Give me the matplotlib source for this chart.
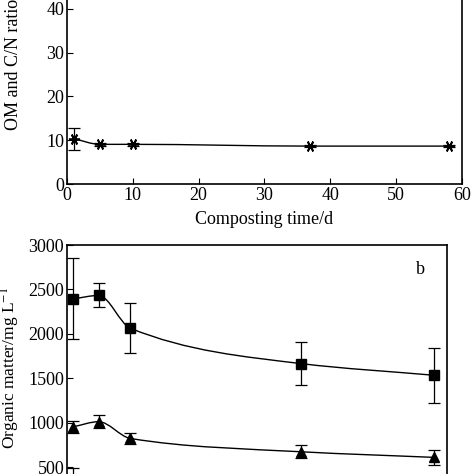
import matplotlib
matplotlib.use("Agg")
import matplotlib.pyplot as plt
from matplotlib.path import Path
from matplotlib.patches import PathPatch
import numpy as np

plt.rcParams['font.family'] = ['Liberation Serif', 'DejaVu Serif']
plt.rcParams['mathtext.fontset'] = 'stix'

# composting days
days = [1, 5, 10, 37, 58]

# panel a: OM and C/N ratio
cn_ratio = [10.4, 9.1, 9.1, 8.7, 8.7]
cn_err = [2.5, 0.3, 0.3, 0.2, 0.2]

# panel b: organic matter, mg/L
om_square = [2395, 2433, 2065, 1667, 1536]
om_square_err = [455, 135, 282, 240, 310]
om_triangle = [957, 1014, 826, 676, 613]
om_triangle_err = [70, 75, 65, 75, 85]
# third series, only the top of its first error bar shows
om_low_days = [1]
om_low = [330]
om_low_err = [165]


def smooth_path(x, y):
    # monotone cubic (Fritsch-Carlson) drawn as bezier segments
    x = np.asarray(x, float)
    y = np.asarray(y, float)
    h = np.diff(x)
    d = np.diff(y) / h
    m = np.zeros_like(y)
    m[0], m[-1] = d[0], d[-1]
    for k in range(1, len(x) - 1):
        if d[k - 1] * d[k] <= 0:
            m[k] = 0
        else:
            w1 = 2 * h[k] + h[k - 1]
            w2 = h[k] + 2 * h[k - 1]
            m[k] = (w1 + w2) / (w1 / d[k - 1] + w2 / d[k])
    verts = [(x[0], y[0])]
    codes = [Path.MOVETO]
    for k in range(len(x) - 1):
        verts += [(x[k] + h[k] / 3, y[k] + m[k] * h[k] / 3),
                  (x[k + 1] - h[k] / 3, y[k + 1] - m[k + 1] * h[k] / 3),
                  (x[k + 1], y[k + 1])]
        codes += [Path.CURVE4] * 3
    return PathPatch(Path(verts, codes), fill=False, ec='black', lw=1.0)


fig = plt.figure(figsize=(4.74, 4.74), dpi=100)

# top panel (a), cropped at the top of the picture
ax1 = fig.add_axes([0.1414, 0.6112, 0.8327, 0.4631])
ax1.add_patch(smooth_path(days, cn_ratio))
ax1.errorbar(days, cn_ratio, yerr=cn_err, fmt='none', ecolor='black',
             elinewidth=0.9, capsize=4, capthick=0.9)
ax1.plot(days, cn_ratio, ls='none', marker=(6, 2, 90), ms=8,
         mec='black', mew=1.3)
ax1.set_xlim(0, 60)
ax1.set_ylim(0, 50)
ax1.set_xticks([0, 10, 20, 30, 40, 50, 60])
ax1.set_yticks([0, 10, 20, 30, 40])
ax1.tick_params(direction='in', length=4, labelsize=13, pad=2)
ax1.set_xlabel('Composting time/d', fontsize=13, labelpad=5)
ax1.set_ylabel('OM and C/N ratio', fontsize=13)
ax1.yaxis.set_label_coords(-0.114, 0.545)
for s in ax1.spines.values():
    s.set_linewidth(1.2)

# bottom panel (b), cropped at the bottom of the picture
ax2 = fig.add_axes([0.1414, -0.080, 0.801, 0.5631])
ax2.add_patch(smooth_path(days, om_square))
ax2.add_patch(smooth_path(days, om_triangle))
ax2.errorbar(days, om_square, yerr=om_square_err, fmt='none', ecolor='black',
             elinewidth=0.9, capsize=4, capthick=0.9)
ax2.errorbar(days, om_triangle, yerr=om_triangle_err, fmt='none', ecolor='black',
             elinewidth=0.9, capsize=4, capthick=0.9)
ax2.errorbar(om_low_days, om_low, yerr=om_low_err, fmt='none', ecolor='black',
             elinewidth=0.9, capsize=4, capthick=0.9)
ax2.plot(days, om_square, ls='none', marker='s', ms=6.5, color='black')
ax2.plot(days, om_triangle, ls='none', marker='^', ms=7, color='black')
ax2.set_xlim(0, 60)
ax2.set_ylim(0, 3000)
ax2.set_yticks([500, 1000, 1500, 2000, 2500, 3000])
ax2.tick_params(direction='in', length=4, labelsize=13, pad=2)
ax2.tick_params(axis='x', labelbottom=False)
ax2.set_ylabel(r'Organic matter/mg L$^{-1}$', fontsize=12.5)
ax2.yaxis.set_label_coords(-0.118, 0.54)
ax2.text(0.93, 0.91, 'b', transform=ax2.transAxes, fontsize=13,
         ha='center', va='center')
for s in ax2.spines.values():
    s.set_linewidth(1.2)

fig.savefig('out.png', dpi=100)
